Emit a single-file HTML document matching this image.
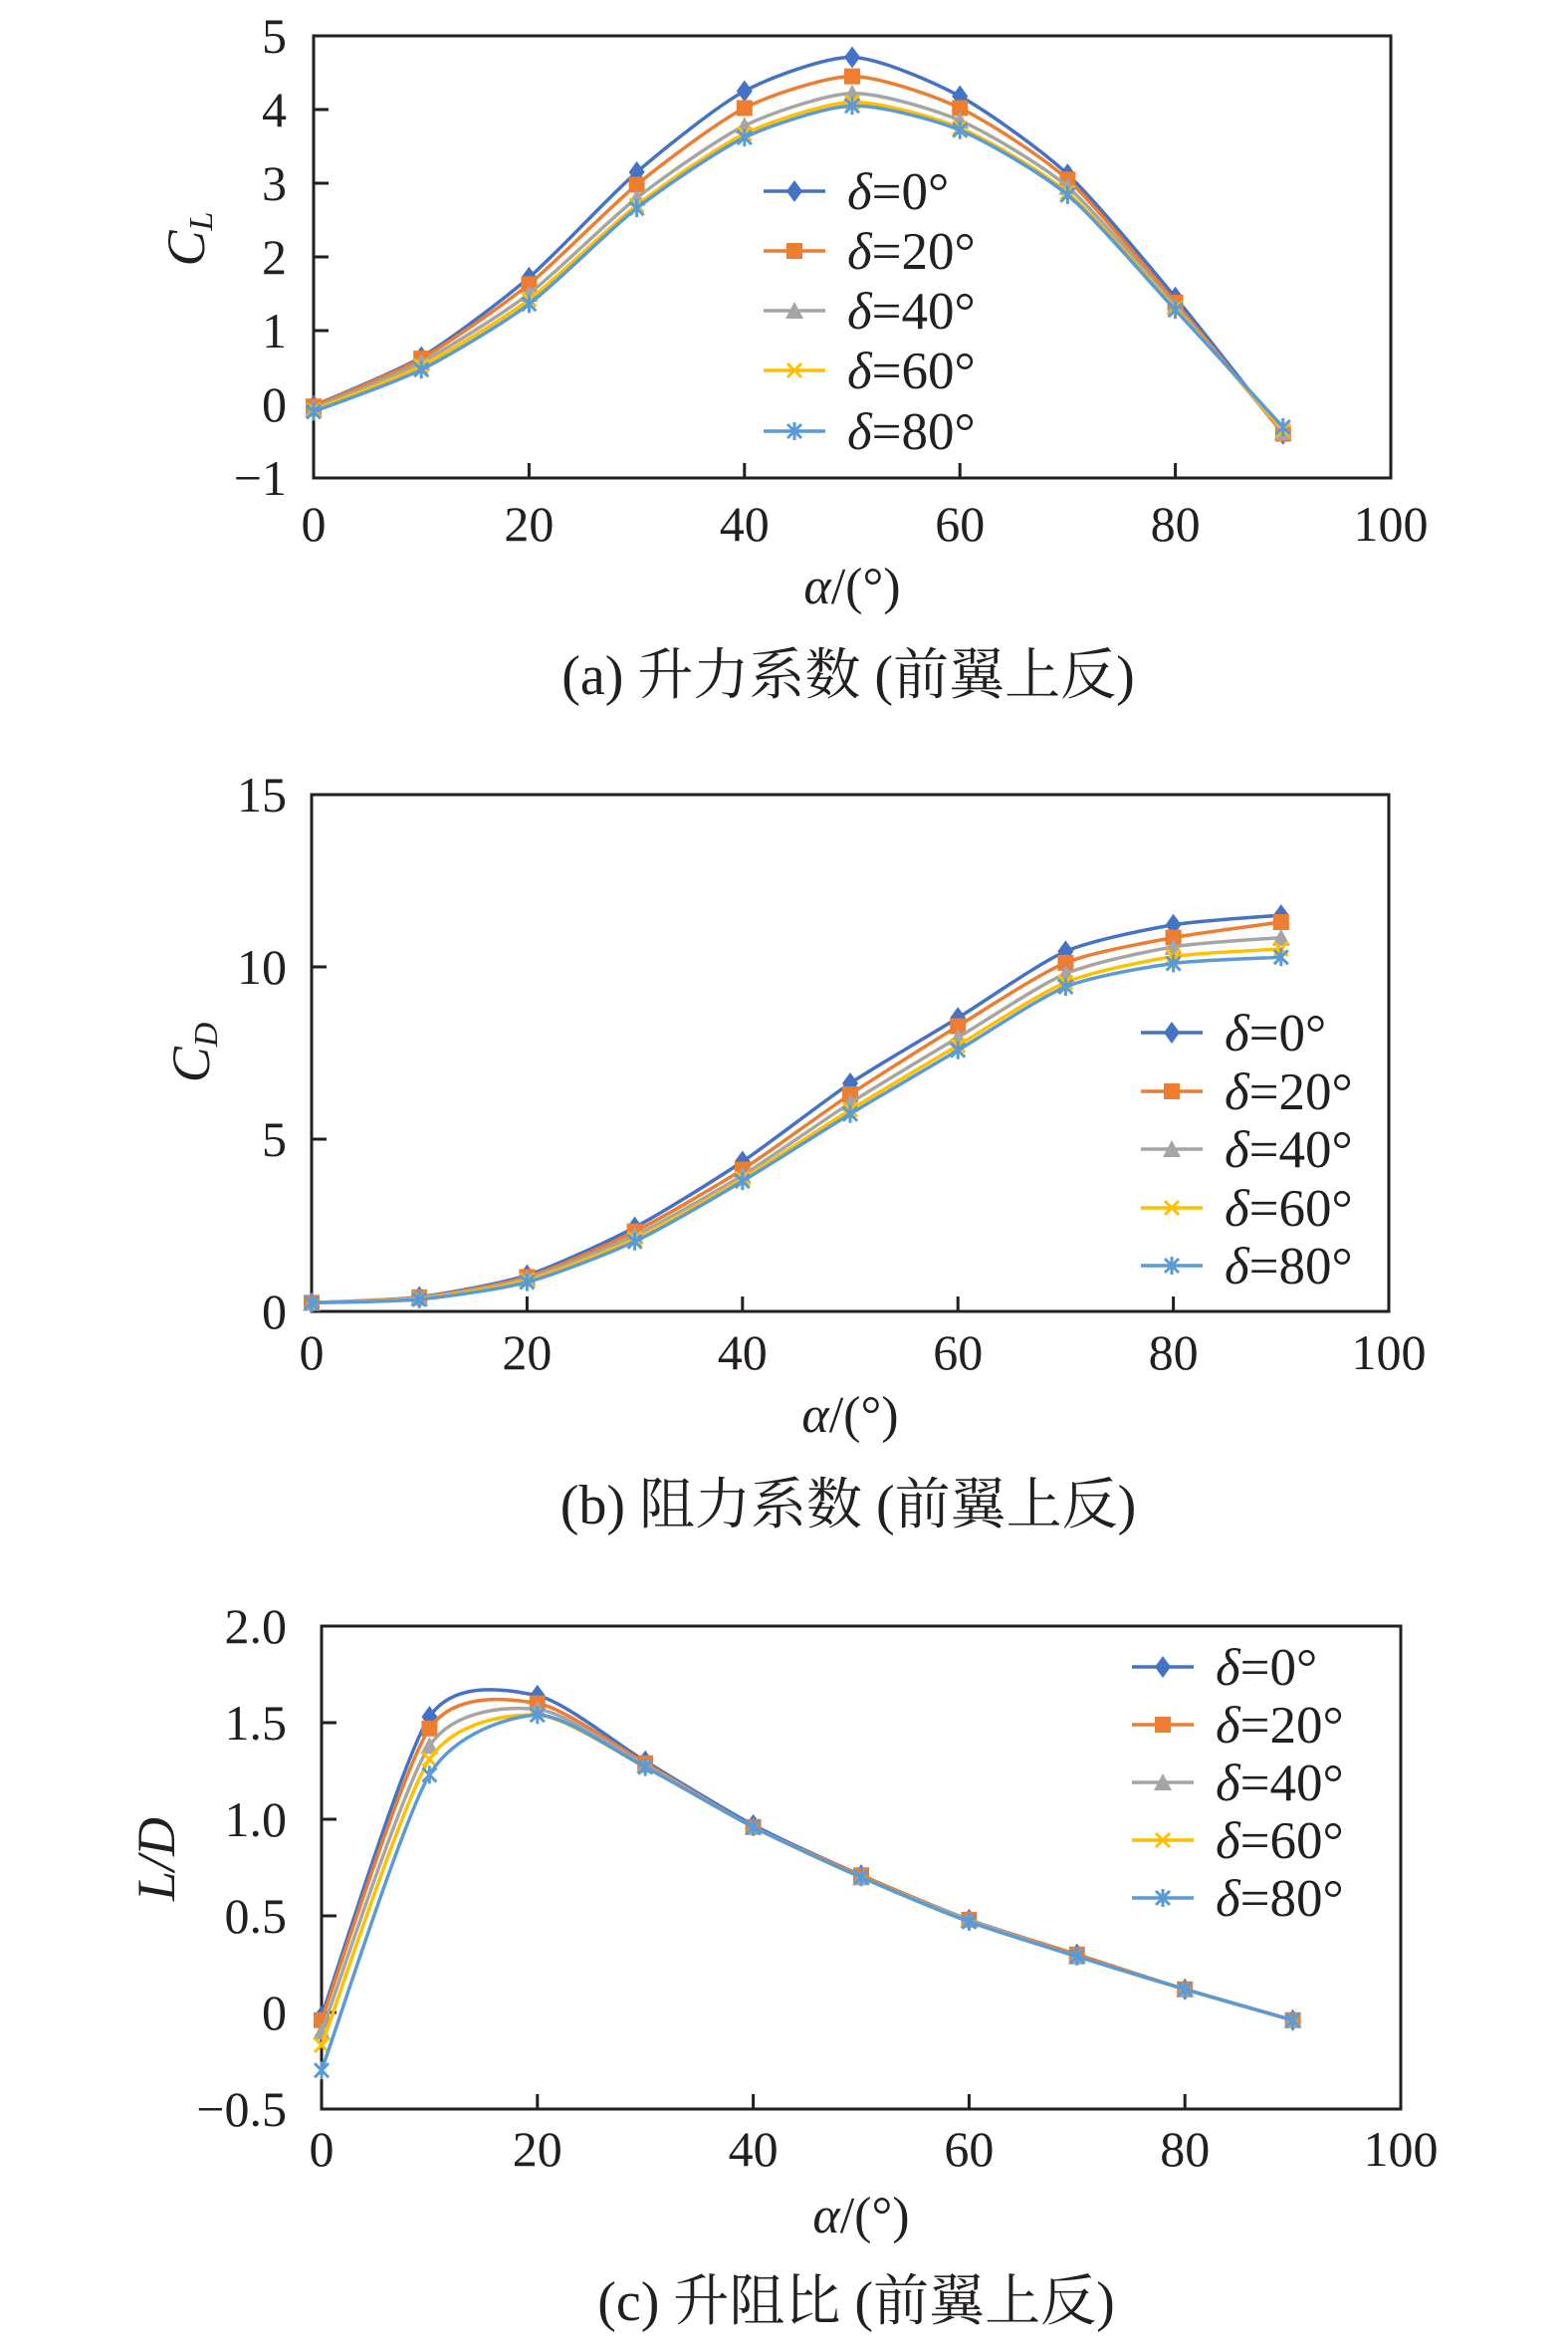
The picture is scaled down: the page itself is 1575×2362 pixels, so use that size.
<!DOCTYPE html>
<html><head><meta charset="utf-8"><style>
html,body{margin:0;padding:0;background:#fff;}
svg{display:block;}
text{font-family:"Liberation Serif","Noto Serif CJK SC",serif;fill:#231f20;}
</style></head><body>
<svg id="fig" width="1575" height="2362" viewBox="0 0 1575 2362" xmlns="http://www.w3.org/2000/svg"></svg>
<script>
const alphas = [0,10,20,30,40,50,60,70,80,90];
const seriesNames = ["δ=0°","δ=20°","δ=40°","δ=60°","δ=80°"];
const seriesColors = ["#4472C4","#ED7D31","#A5A5A5","#FFC000","#5B9BD5"];
const seriesMarkers = ["diamond","square","triangle","x","star"];
const xTicks = [0,20,40,60,80,100];

const clD0 = [-0.02,0.64,1.72,3.15,4.25,4.71,4.18,3.12,1.45,-0.40];
const clD20 = [-0.03,0.62,1.63,2.98,4.02,4.45,4.02,3.05,1.38,-0.40];
const clD40 = [-0.06,0.57,1.50,2.80,3.78,4.22,3.85,2.95,1.33,-0.38];
const clD60 = [-0.08,0.52,1.42,2.70,3.67,4.10,3.75,2.87,1.30,-0.35];
const clD80 = [-0.10,0.47,1.36,2.66,3.62,4.05,3.72,2.84,1.28,-0.31];
const clTicks = [-1,0,1,2,3,4,5];
const clTickLabels = ["−1","0","1","2","3","4","5"];

const cdD0 = [0.25,0.42,1.05,2.44,4.35,6.62,8.52,10.45,11.22,11.50];
const cdD20 = [0.25,0.41,1.00,2.32,4.12,6.30,8.28,10.12,10.85,11.30];
const cdD40 = [0.25,0.39,0.95,2.20,3.95,6.05,7.95,9.80,10.58,10.85];
const cdD60 = [0.25,0.37,0.90,2.10,3.85,5.85,7.72,9.55,10.30,10.52];
const cdD80 = [0.25,0.35,0.85,2.03,3.78,5.73,7.58,9.42,10.10,10.28];
const cdTicks = [0,5,10,15];
const cdTickLabels = ["0","5","10","15"];

const ldD0 = [-0.02,1.53,1.64,1.30,0.97,0.71,0.48,0.30,0.12,-0.04];
const ldD20 = [-0.04,1.47,1.60,1.29,0.96,0.71,0.48,0.30,0.12,-0.04];
const ldD40 = [-0.10,1.38,1.57,1.28,0.96,0.70,0.48,0.29,0.12,-0.04];
const ldD60 = [-0.17,1.31,1.54,1.27,0.96,0.70,0.47,0.29,0.12,-0.04];
const ldD80 = [-0.30,1.23,1.54,1.27,0.96,0.70,0.47,0.29,0.12,-0.04];
const ldTicks = [-0.5,0,0.5,1.0,1.5,2.0];
const ldTickLabels = ["−0.5","0","0.5","1.0","1.5","2.0"];

const NS = "http://www.w3.org/2000/svg";
const svg = document.getElementById("fig");
function mk(tag, attrs, parent){const e=document.createElementNS(NS,tag);for(const k in attrs)e.setAttribute(k,attrs[k]);(parent||svg).appendChild(e);return e;}

function marker(g, type, cx, cy, color){
  const s=9;let e;
  if(type==="diamond"){e=mk("path",{d:`M${cx},${cy-s-2}L${cx+s-1},${cy}L${cx},${cy+s+2}L${cx-s+1},${cy}Z`,fill:color},g);}
  else if(type==="square"){e=mk("rect",{x:cx-8,y:cy-8,width:16,height:16,fill:color},g);}
  else if(type==="triangle"){e=mk("path",{d:`M${cx},${cy-s}L${cx+s},${cy+s-1}L${cx-s},${cy+s-1}Z`,fill:color},g);}
  else if(type==="x"){e=mk("path",{d:`M${cx-7},${cy-7}L${cx+7},${cy+7}M${cx+7},${cy-7}L${cx-7},${cy+7}`,stroke:color,"stroke-width":3,fill:"none"},g);}
  else {e=mk("path",{d:`M${cx-7},${cy-7}L${cx+7},${cy+7}M${cx+7},${cy-7}L${cx-7},${cy+7}M${cx},${cy-9}L${cx},${cy+9}`,stroke:color,"stroke-width":3,fill:"none"},g);}
  return e;
}

function smoothPath(pts){
  let d=`M${pts[0][0]},${pts[0][1]}`;
  for(let i=0;i<pts.length-1;i++){
    const p0=pts[Math.max(i-1,0)],p1=pts[i],p2=pts[i+1],p3=pts[Math.min(i+2,pts.length-1)];
    const t=0.12;
    const c1=[p1[0]+(p2[0]-p0[0])*t,p1[1]+(p2[1]-p0[1])*t];
    const c2=[p2[0]-(p3[0]-p1[0])*t,p2[1]-(p3[1]-p1[1])*t];
    d+=`C${c1[0]},${c1[1]} ${c2[0]},${c2[1]} ${p2[0]},${p2[1]}`;
  }
  return d;
}

function panel(o){
  const g=mk("g",{});
  
  
  const sx=v=>o.L+(v-0)/(100-0)*(o.R-o.L);
  const sy=v=>o.B-(v-o.ymin)/(o.ymax-o.ymin)*(o.B-o.T);
  const fr=mk("rect",{x:o.L,y:o.T,width:o.R-o.L,height:o.B-o.T,fill:"none",stroke:"#231f20","stroke-width":3},g);
  
  
  o.yTicks.forEach((v,i)=>{
    const y=sy(v);
    if(i>0&&i<o.yTicks.length-1){const tk=mk("line",{x1:o.L,x2:o.L+15,y1:y,y2:y,stroke:"#231f20","stroke-width":3},g);
      }
    const t=mk("text",{x:288,y:y+17,"text-anchor":"end","font-size":50},g);
    t.textContent=o.yLabels[i];
    
    
  });
  xTicks.forEach(v=>{
    const x=sx(v);
    if(v>0&&v<100){const tk=mk("line",{x1:x,x2:x,y1:o.B,y2:o.B-15,stroke:"#231f20","stroke-width":3},g);
      }
    const t=mk("text",{x:x,y:o.xlabY,"text-anchor":"middle","font-size":50},g);
    t.textContent=String(v);
    
    
  });
  o.series.forEach((vals,si)=>{
    const sg=mk("g",{},g);
    
    
    const pts=vals.map((v,i)=>[sx(alphas[i]),sy(v)]);
    const p=mk("path",{d:smoothPath(pts),fill:"none",stroke:seriesColors[si],"stroke-width":3.5},sg);
    
    
    pts.forEach(pt=>{const m=marker(sg,seriesMarkers[si],pt[0],pt[1],seriesColors[si]);
      
      });
  });
  const lg=mk("g",{},g);
  
  
  seriesNames.forEach((n,si)=>{
    const y=o.legY[si];
    const eg=mk("g",{},lg);
    
    
    mk("line",{x1:o.legX,x2:o.legX+62,y1:y,y2:y,stroke:seriesColors[si],"stroke-width":3.5},eg);
    marker(eg,seriesMarkers[si],o.legX+31,y,seriesColors[si]);
    const t=mk("text",{x:o.legX+84,y:y+18,"font-size":53},eg);
    const d=mk("tspan",{"font-style":"italic"},t);d.textContent="δ";
    const r=mk("tspan",{},t);r.textContent=n.slice(1);
  });
  const yt=mk("text",{x:0,y:0,"font-size":54,"font-style":"italic",transform:`translate(${o.ytX},${o.ytY}) rotate(-90)`,"text-anchor":"middle"},g);
  
  
  if(o.ytSub){const a=mk("tspan",{},yt);a.textContent="C";const b=mk("tspan",{"font-size":34,dy:8},yt);b.textContent=o.ytSub;}
  else yt.textContent=o.ytText;
  const xt=mk("text",{x:(o.L+o.R)/2,y:o.xtY,"text-anchor":"middle","font-size":52},g);
  
  
  const a1=mk("tspan",{"font-style":"italic"},xt);a1.textContent="α";
  const a2=mk("tspan",{},xt);a2.textContent="/(°)";
  const cp=mk("text",{x:o.capX,y:o.capY,"text-anchor":"middle","font-size":56},g);
  cp.textContent=o.caption;
  
  
}

panel({name:"lift-coefficient-chart",L:315,R:1397,T:36,B:480,ymin:-1,ymax:5,yTicks:clTicks,yLabels:clTickLabels,
  series:[clD0,clD20,clD40,clD60,clD80],xlabY:543,xtY:606,capX:852,capY:697,caption:"(a) 升力系数 (前翼上反)",
  legX:767,legY:[192,252,312,372,433],ytX:205,ytY:240,ytSub:"L"});
panel({name:"drag-coefficient-chart",L:313,R:1395,T:798,B:1317,ymin:0,ymax:15,yTicks:cdTicks,yLabels:cdTickLabels,
  series:[cdD0,cdD20,cdD40,cdD60,cdD80],xlabY:1375,xtY:1438,capX:852,capY:1530,caption:"(b) 阻力系数 (前翼上反)",
  legX:1146,legY:[1037,1096,1154,1213,1271],ytX:210,ytY:1057,ytSub:"D"});
panel({name:"lift-drag-ratio-chart",L:323,R:1407,T:1633,B:2118,ymin:-0.5,ymax:2.0,yTicks:ldTicks,yLabels:ldTickLabels,
  series:[ldD0,ldD20,ldD40,ldD60,ldD80],xlabY:2175,xtY:2242,capX:860,capY:2330,caption:"(c) 升阻比 (前翼上反)",
  legX:1137,legY:[1674,1732,1790,1848,1906],ytX:175,ytY:1867,ytText:"L/D"});
</script>
</body></html>
